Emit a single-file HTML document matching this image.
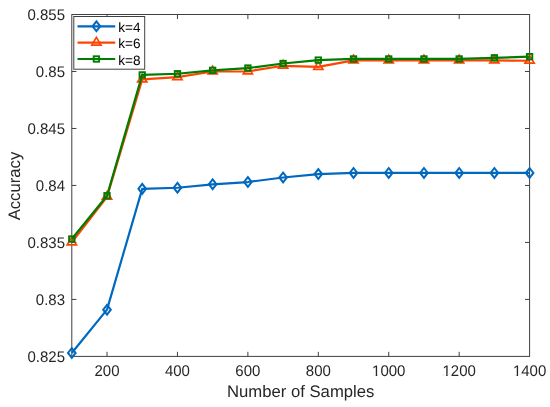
<!DOCTYPE html>
<html><head><meta charset="utf-8"><title>Accuracy vs Number of Samples</title>
<style>html,body{margin:0;padding:0;background:#fff;width:550px;height:407px;overflow:hidden}svg{display:block;text-rendering:geometricPrecision}</style>
</head><body>
<svg width="550" height="407" viewBox="0 0 550 407">
<rect x="0" y="0" width="550" height="407" fill="#fff"/>
<path d="M71.8 299.42h4.6M529.6 299.42h-4.6M71.8 242.43h4.6M529.6 242.43h-4.6M71.8 185.45h4.6M529.6 185.45h-4.6M71.8 128.47h4.6M529.6 128.47h-4.6M71.8 71.48h4.6M529.6 71.48h-4.6M107.02 356.4v-4.6M107.02 14.5v4.6M177.45 356.4v-4.6M177.45 14.5v4.6M247.88 356.4v-4.6M247.88 14.5v4.6M318.31 356.4v-4.6M318.31 14.5v4.6M388.74 356.4v-4.6M388.74 14.5v4.6M459.17 356.4v-4.6M459.17 14.5v4.6" stroke="#404040" stroke-width="1" fill="none"/>
<rect x="71.8" y="14.5" width="457.8" height="341.9" fill="none" stroke="#404040" stroke-width="1"/>
<g font-family="Liberation Sans, sans-serif" font-size="15" fill="#262626"><text transform="translate(65 361.7) scale(1.0 1.03)" text-anchor="end">0.825</text><text transform="translate(65 304.72) scale(1.0 1.03)" text-anchor="end">0.83</text><text transform="translate(65 247.73) scale(1.0 1.03)" text-anchor="end">0.835</text><text transform="translate(65 190.75) scale(1.0 1.03)" text-anchor="end">0.84</text><text transform="translate(65 133.77) scale(1.0 1.03)" text-anchor="end">0.845</text><text transform="translate(65 76.78) scale(1.0 1.03)" text-anchor="end">0.85</text><text transform="translate(65 19.8) scale(1.0 1.03)" text-anchor="end">0.855</text><text transform="translate(107.02 376) scale(1.0 1.03)" text-anchor="middle">200</text><text transform="translate(177.45 376) scale(1.0 1.03)" text-anchor="middle">400</text><text transform="translate(247.88 376) scale(1.0 1.03)" text-anchor="middle">600</text><text transform="translate(318.31 376) scale(1.0 1.03)" text-anchor="middle">800</text><text transform="translate(388.74 376) scale(1.0 1.03)" text-anchor="middle">1000</text><text transform="translate(459.17 376) scale(1.0 1.03)" text-anchor="middle">1200</text><text transform="translate(529.6 376) scale(1.0 1.03)" text-anchor="middle">1400</text></g>
<g fill="#fff"><rect x="372.96" y="374.21" width="2.75" height="2.39"/><rect x="377.21" y="374.21" width="2.99" height="2.39"/><rect x="443.39" y="374.21" width="2.75" height="2.39"/><rect x="447.64" y="374.21" width="2.99" height="2.39"/><rect x="513.82" y="374.21" width="2.75" height="2.39"/><rect x="518.08" y="374.21" width="2.99" height="2.39"/></g>
<text x="300.7" y="396.8" text-anchor="middle" font-family="Liberation Sans, sans-serif" font-size="16.7" fill="#262626">Number of Samples</text>
<text transform="translate(20.4 186.05) rotate(-90)" text-anchor="middle" font-family="Liberation Sans, sans-serif" font-size="16.7" fill="#262626">Accuracy</text>
<polyline points="71.8,352.98 107.02,309.67 142.23,188.87 177.45,187.73 212.66,184.31 247.88,182.03 283.09,177.47 318.31,174.05 353.52,172.91 388.74,172.91 423.95,172.91 459.17,172.91 494.38,172.91 529.6,172.91" fill="none" stroke="#0068bf" stroke-width="2.2" stroke-linejoin="round"/>
<path d="M71.8 348.08L75.6 352.98L71.8 357.88L68 352.98Z" fill="none" stroke="#0068bf" stroke-width="2.0"/><path d="M107.02 304.77L110.82 309.67L107.02 314.57L103.22 309.67Z" fill="none" stroke="#0068bf" stroke-width="2.0"/><path d="M142.23 183.97L146.03 188.87L142.23 193.77L138.43 188.87Z" fill="none" stroke="#0068bf" stroke-width="2.0"/><path d="M177.45 182.83L181.25 187.73L177.45 192.63L173.65 187.73Z" fill="none" stroke="#0068bf" stroke-width="2.0"/><path d="M212.66 179.41L216.46 184.31L212.66 189.21L208.86 184.31Z" fill="none" stroke="#0068bf" stroke-width="2.0"/><path d="M247.88 177.13L251.68 182.03L247.88 186.93L244.08 182.03Z" fill="none" stroke="#0068bf" stroke-width="2.0"/><path d="M283.09 172.57L286.89 177.47L283.09 182.37L279.29 177.47Z" fill="none" stroke="#0068bf" stroke-width="2.0"/><path d="M318.31 169.15L322.11 174.05L318.31 178.95L314.51 174.05Z" fill="none" stroke="#0068bf" stroke-width="2.0"/><path d="M353.52 168.01L357.32 172.91L353.52 177.81L349.72 172.91Z" fill="none" stroke="#0068bf" stroke-width="2.0"/><path d="M388.74 168.01L392.54 172.91L388.74 177.81L384.94 172.91Z" fill="none" stroke="#0068bf" stroke-width="2.0"/><path d="M423.95 168.01L427.75 172.91L423.95 177.81L420.15 172.91Z" fill="none" stroke="#0068bf" stroke-width="2.0"/><path d="M459.17 168.01L462.97 172.91L459.17 177.81L455.37 172.91Z" fill="none" stroke="#0068bf" stroke-width="2.0"/><path d="M494.38 168.01L498.18 172.91L494.38 177.81L490.58 172.91Z" fill="none" stroke="#0068bf" stroke-width="2.0"/><path d="M529.6 168.01L533.4 172.91L529.6 177.81L525.8 172.91Z" fill="none" stroke="#0068bf" stroke-width="2.0"/>

<polyline points="71.8,242.43 107.02,196.85 142.23,79.46 177.45,77.18 212.66,71.48 247.88,71.48 283.09,65.78 318.31,66.92 353.52,60.43 388.74,60.43 423.95,60.43 459.17,60.43 494.38,60.43 529.6,60.77" fill="none" stroke="#ff4400" stroke-width="2.2" stroke-linejoin="round"/>
<path d="M71.8 237.13L76.4 244.83L67.2 244.83Z" fill="none" stroke="#ff4400" stroke-width="1.7"/><path d="M107.02 191.55L111.62 199.25L102.42 199.25Z" fill="none" stroke="#ff4400" stroke-width="1.7"/><path d="M142.23 74.16L146.83 81.86L137.63 81.86Z" fill="none" stroke="#ff4400" stroke-width="1.7"/><path d="M177.45 71.88L182.05 79.58L172.85 79.58Z" fill="none" stroke="#ff4400" stroke-width="1.7"/><path d="M212.66 66.18L217.26 73.88L208.06 73.88Z" fill="none" stroke="#ff4400" stroke-width="1.7"/><path d="M247.88 66.18L252.48 73.88L243.28 73.88Z" fill="none" stroke="#ff4400" stroke-width="1.7"/><path d="M283.09 60.48L287.69 68.18L278.49 68.18Z" fill="none" stroke="#ff4400" stroke-width="1.7"/><path d="M318.31 61.62L322.91 69.32L313.71 69.32Z" fill="none" stroke="#ff4400" stroke-width="1.7"/><path d="M353.52 55.13L358.12 62.83L348.92 62.83Z" fill="none" stroke="#ff4400" stroke-width="1.7"/><path d="M388.74 55.13L393.34 62.83L384.14 62.83Z" fill="none" stroke="#ff4400" stroke-width="1.7"/><path d="M423.95 55.13L428.55 62.83L419.35 62.83Z" fill="none" stroke="#ff4400" stroke-width="1.7"/><path d="M459.17 55.13L463.77 62.83L454.57 62.83Z" fill="none" stroke="#ff4400" stroke-width="1.7"/><path d="M494.38 55.13L498.98 62.83L489.78 62.83Z" fill="none" stroke="#ff4400" stroke-width="1.7"/><path d="M529.6 55.47L534.2 63.17L525 63.17Z" fill="none" stroke="#ff4400" stroke-width="1.7"/>

<polyline points="71.8,239.01 107.02,195.71 142.23,74.9 177.45,73.76 212.66,70.34 247.88,68.06 283.09,63.51 318.31,60.09 353.52,58.95 388.74,58.95 423.95,58.95 459.17,58.95 494.38,57.81 529.6,56.67" fill="none" stroke="#007c00" stroke-width="2.2" stroke-linejoin="round"/>
<rect x="69.1" y="236.31" width="5.4" height="5.4" fill="none" stroke="#007c00" stroke-width="1.9"/><rect x="104.32" y="193.01" width="5.4" height="5.4" fill="none" stroke="#007c00" stroke-width="1.9"/><rect x="139.53" y="72.2" width="5.4" height="5.4" fill="none" stroke="#007c00" stroke-width="1.9"/><rect x="174.75" y="71.06" width="5.4" height="5.4" fill="none" stroke="#007c00" stroke-width="1.9"/><rect x="209.96" y="67.64" width="5.4" height="5.4" fill="none" stroke="#007c00" stroke-width="1.9"/><rect x="245.18" y="65.36" width="5.4" height="5.4" fill="none" stroke="#007c00" stroke-width="1.9"/><rect x="280.39" y="60.81" width="5.4" height="5.4" fill="none" stroke="#007c00" stroke-width="1.9"/><rect x="315.61" y="57.39" width="5.4" height="5.4" fill="none" stroke="#007c00" stroke-width="1.9"/><rect x="350.82" y="56.25" width="5.4" height="5.4" fill="none" stroke="#007c00" stroke-width="1.9"/><rect x="386.04" y="56.25" width="5.4" height="5.4" fill="none" stroke="#007c00" stroke-width="1.9"/><rect x="421.25" y="56.25" width="5.4" height="5.4" fill="none" stroke="#007c00" stroke-width="1.9"/><rect x="456.47" y="56.25" width="5.4" height="5.4" fill="none" stroke="#007c00" stroke-width="1.9"/><rect x="491.68" y="55.11" width="5.4" height="5.4" fill="none" stroke="#007c00" stroke-width="1.9"/><rect x="526.9" y="53.97" width="5.4" height="5.4" fill="none" stroke="#007c00" stroke-width="1.9"/>

<rect x="73.8" y="16.5" width="70.9" height="52.7" fill="#fff" stroke="#404040" stroke-width="1"/>
<path d="M77.5 26.3H115.2" stroke="#0068bf" stroke-width="2.2"/>
<path d="M96.4 21.4L100.2 26.3L96.4 31.2L92.6 26.3Z" fill="none" stroke="#0068bf" stroke-width="2.0"/>
<text x="118.3" y="31.6" font-family="Liberation Sans, sans-serif" font-size="13.6" fill="#000">k=4</text>
<path d="M77.5 42.7H115.2" stroke="#ff4400" stroke-width="2.2"/>
<path d="M96.4 37.4L101 45.1L91.8 45.1Z" fill="none" stroke="#ff4400" stroke-width="1.7"/>
<text x="118.3" y="48.1" font-family="Liberation Sans, sans-serif" font-size="13.6" fill="#000">k=6</text>
<path d="M77.5 59H115.2" stroke="#007c00" stroke-width="2.2"/>
<rect x="93.7" y="56.3" width="5.4" height="5.4" fill="none" stroke="#007c00" stroke-width="1.9"/>
<text x="118.3" y="64.7" font-family="Liberation Sans, sans-serif" font-size="13.6" fill="#000">k=8</text>
</svg>
</body></html>
